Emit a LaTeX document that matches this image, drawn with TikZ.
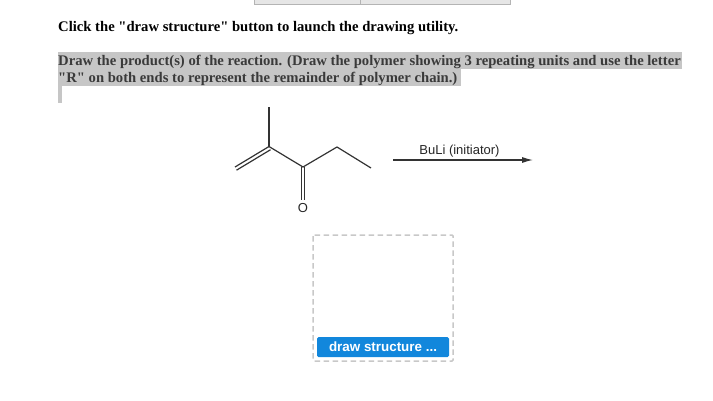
\documentclass[tikz,border=0pt]{standalone}
\usepackage{fontspec}
\setmainfont{Liberation Serif}[Ligatures=TeXOff]
\newfontfamily\arialf{Liberation Sans}
\usetikzlibrary{arrows.meta}
\definecolor{hl}{HTML}{C6C6C6}
\definecolor{tabfill}{HTML}{E6E6E6}
\definecolor{tabline}{HTML}{B4B4B4}
\definecolor{btn}{HTML}{1287DC}
\definecolor{dashc}{HTML}{C8C8C8}
\definecolor{hltext}{HTML}{3A3A3A}
\tikzset{
  heading/.style={anchor=base west,inner sep=0pt,font=\fontsize{14.65}{16}\selectfont\bfseries},
  hltextstyle/.style={heading,text=hltext},
  bond/.style={draw=black!80,line width=1.2pt},
  hlbox/.style={fill=hl,draw=none},
  tabbox/.style={fill=tabfill,draw=tabline,line width=1pt},
  chem/.style={inner sep=0pt,font=\arialf\fontsize{13}{15}\selectfont,text=black!85},
  dropbox/.style={draw=dashc,line width=1.5pt,dash pattern=on 5.5pt off 3.5pt,rounded corners=1pt},
  actionbtn/.style={fill=btn,rounded corners=1.5pt,text=white,font=\arialf\fontsize{13.4}{15}\selectfont\bfseries,inner sep=0pt,minimum width=132pt,minimum height=20pt},
}
\begin{document}
\begin{tikzpicture}[x=1pt,y=-1pt]
\useasboundingbox (0,0) rectangle (713,400);
% top tabs
\path[tabbox] (254,-3) rectangle (360,4);
\path[tabbox] (360,-3) rectangle (510,4);
% heading
\node[heading] (title) at (58,31) {Click the "draw structure" button to launch the drawing utility.};
% highlight
\path[hlbox] (58,52) rectangle (682,69);
\path[hlbox] (58,69) rectangle (461,86);
\path[hlbox] (58,86) rectangle (62,103);
\node[hltextstyle] (l1) at (58,65) {Draw the product(s) of the reaction. (Draw the polymer showing 3 repeating units and use the letter};
\node[hltextstyle] (l2) at (58,82) {"R" on both ends to represent the remainder of polymer chain.)};
% molecule
\coordinate (me) at (269,107);
\coordinate (c2) at (269,146.5);
\coordinate (ch2) at (235,167);
\coordinate (c3) at (303,167);
\coordinate (c4) at (337,147);
\coordinate (c5) at (371,168);
\node[chem] (oxy) at (303,208) {O};
\draw[bond] (me) -- (c2);
\draw[bond] (c2) -- (c3) -- (c4) -- (c5);
\draw[bond] (c2) -- (ch2);
\draw[bond] ([shift={(1.5,3.2)}]c2) -- ([shift={(1.5,3.2)}]ch2);
\draw[bond] ([xshift=-1.7pt]c3) -- ([xshift=-1.7pt]303,200);
\draw[bond] ([xshift=1.7pt]c3) -- ([xshift=1.7pt]303,200);
% arrow
\coordinate (as) at (393,160);
\coordinate (ae) at (533,160);
\draw[bond,-{Latex[length=11pt,width=6pt]}] (as) -- (ae);
\node[chem,anchor=base] (lab) at (459.5,154) {BuLi (initiator)};
% answer box
\path[dropbox] (313,235) rectangle (453,361);
\node[actionbtn] (btn) at (383,347) {draw structure ...};
\end{tikzpicture}
\end{document}
